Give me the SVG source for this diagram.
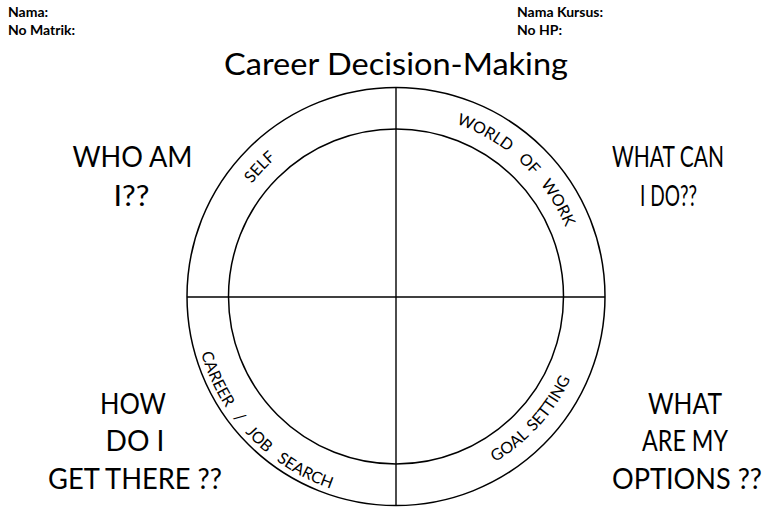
<svg xmlns="http://www.w3.org/2000/svg" width="768" height="532" viewBox="0 0 768 532">
<style>
text { font-family: Lato, "Open Sans", "Liberation Sans", sans-serif; fill: #000; }
.hdr { font-size: 14px; font-weight: bold; }
.title { font-size: 30px; text-anchor: middle; }
.q { font-size: 28px; text-anchor: middle; }
.arc { font-size: 16px; text-anchor: middle; }
.ring { fill: none; stroke: #000; stroke-width: 1.5; }
.line { stroke: #000; stroke-width: 1.4; }
</style>
<defs>
<path id="topArc" d="M 213 296.5 A 183 183 0 0 1 579 296.5"/>
<path id="botArcOuter" d="M 193 296.5 A 203 203 0 0 0 599 296.5"/>
<path id="botArcMid" d="M 203 296.5 A 193 193 0 0 0 589 296.5"/>
</defs>
<rect width="768" height="532" fill="#fff"/>
<g id="header">
<text class="hdr" x="8" y="17">Nama:</text>
<text class="hdr" x="8" y="35">No Matrik:</text>
<text class="hdr" x="517" y="17">Nama Kursus:</text>
<text class="hdr" x="517" y="35">No HP:</text>
</g>
<g id="title">
<text class="title" x="396" y="75" textLength="344" lengthAdjust="spacingAndGlyphs">Career Decision-Making</text>
</g>
<g id="wheel">
<circle class="ring" cx="396" cy="296.5" r="209"/>
<circle class="ring" cx="396" cy="296.5" r="167.5"/>
<g id="connectors">
<line class="line" x1="187" y1="297" x2="605" y2="297"/>
<line class="line" x1="396" y1="87.5" x2="396" y2="505.5"/>
</g>
</g>
<g id="self">
<text class="arc"><textPath href="#topArc" startOffset="139">SELF</textPath></text>
</g>
<g id="world-of-work">
<text class="arc" word-spacing="8"><textPath href="#topArc" startOffset="426">WORLD OF WORK</textPath></text>
</g>
<g id="career-job-search">
<text class="arc" word-spacing="8"><textPath href="#botArcOuter" startOffset="155">CAREER / JOB SEARCH</textPath></text>
</g>
<g id="goal-setting">
<text class="arc" word-spacing="2"><textPath href="#botArcMid" startOffset="464">GOAL SETTING</textPath></text>
</g>
<g id="who-am-i">
<text class="q" x="132.5" y="167" textLength="120" lengthAdjust="spacingAndGlyphs">WHO AM</text>
<text class="q" x="131.5" y="206" textLength="36" lengthAdjust="spacingAndGlyphs">I??</text>
</g>
<g id="what-can-i-do">
<text class="q" x="668" y="167" textLength="112" lengthAdjust="spacingAndGlyphs">WHAT CAN</text>
<text class="q" x="668.5" y="206" textLength="57" lengthAdjust="spacingAndGlyphs">I DO??</text>
</g>
<g id="how-do-i-get-there">
<text class="q" x="133" y="414" textLength="66" lengthAdjust="spacingAndGlyphs">HOW</text>
<text class="q" x="135" y="451" textLength="59" lengthAdjust="spacingAndGlyphs">DO I</text>
<text class="q" x="135" y="489" textLength="174" lengthAdjust="spacingAndGlyphs">GET THERE ??</text>
</g>
<g id="what-are-my-options">
<text class="q" x="685" y="414" textLength="74" lengthAdjust="spacingAndGlyphs">WHAT</text>
<text class="q" x="685" y="451" textLength="86" lengthAdjust="spacingAndGlyphs">ARE MY</text>
<text class="q" x="687" y="489" textLength="150" lengthAdjust="spacingAndGlyphs">OPTIONS ??</text>
</g>
</svg>
